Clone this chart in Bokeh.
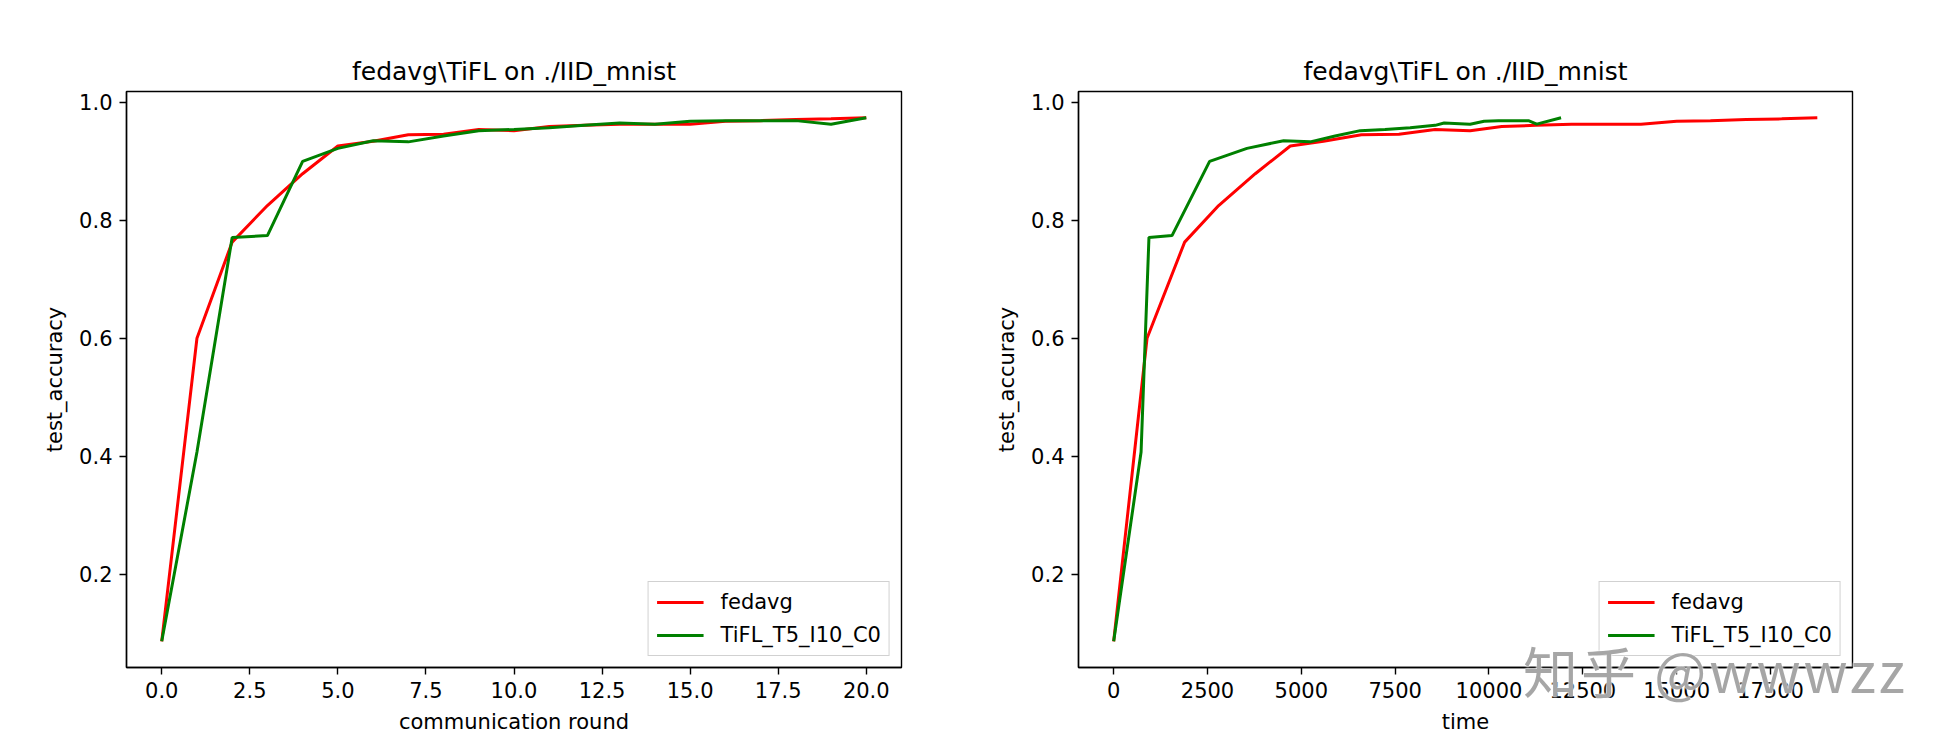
from bokeh.plotting import figure
from bokeh.layouts import row
from bokeh.models import FixedTicker, Range1d, Div, NumeralTickFormatter
from bokeh.embed import file_html
from bokeh.resources import INLINE

# ---- data ----
rounds = list(range(21))
fedavg_acc = [0.086, 0.600, 0.763, 0.825, 0.879, 0.926, 0.934, 0.945, 0.946, 0.954, 0.952,
              0.959, 0.961, 0.963, 0.963, 0.963, 0.968, 0.969, 0.971, 0.972, 0.974]
tifl_acc = [0.086, 0.407, 0.771, 0.774, 0.900, 0.922, 0.935, 0.933, 0.943, 0.952, 0.954,
            0.957, 0.961, 0.965, 0.963, 0.968, 0.969, 0.969, 0.969, 0.963, 0.974]
fedavg_time = [0, 889, 1891, 2797, 3773, 4705, 5591, 6600, 7600, 8565, 9497,
               10340, 11250, 12200, 13100, 14050, 15000, 15900, 16850, 17800, 18748]
tifl_time = [0, 730, 940, 1554, 2556, 3551, 4527, 5237, 5900, 6570, 7230,
             7900, 8565, 8805, 9497, 9870, 10250, 10650, 11050, 11272, 11920]

series_names = ["fedavg", "TiFL_T5_I10_C0"]
series_colors = ["red", "green"]
title_text = "fedavg\\TiFL on ./IID_mnist"
y_label = "test_accuracy"
x_labels = ["communication round", "time"]
y_ticks = [0.2, 0.4, 0.6, 0.8, 1.0]
x_ticks_round = [0, 2.5, 5, 7.5, 10, 12.5, 15, 17.5, 20]
x_ticks_time = [0, 2500, 5000, 7500, 10000, 12500, 15000, 17500]
watermark = "知乎 @wwwzz"

FONT = "DejaVu Sans"


def padded(vals):
    lo, hi = min(vals), max(vals)
    m = 0.05 * (hi - lo)
    return lo - m, hi + m


def make(xs_a, xs_b, x_ticks, x_fmt, xlabel, width, bl, br):
    x0, x1 = padded(list(xs_a) + list(xs_b))
    y0, y1 = padded(fedavg_acc + tifl_acc)
    p = figure(width=width, height=742, output_backend="svg", toolbar_location=None,
               x_range=Range1d(x0, x1), y_range=Range1d(y0, y1),
               min_border_left=bl, min_border_right=br, min_border_top=91, min_border_bottom=75)
    p.title.text = title_text
    p.title.align = "center"
    p.title.text_font = FONT
    p.title.text_font_size = "25px"
    p.title.text_font_style = "normal"
    p.title.text_color = "black"
    p.title.standoff = 12
    p.outline_line_color = "black"
    p.outline_line_width = 1.4
    p.outline_line_alpha = 1.0
    p.xgrid.visible = False
    p.ygrid.visible = False
    p.background_fill_color = "white"
    p.border_fill_color = "white"

    p.line(xs_a, fedavg_acc, line_color=series_colors[0], line_width=3, legend_label=series_names[0])
    p.line(xs_b, tifl_acc, line_color=series_colors[1], line_width=3, legend_label=series_names[1])

    p.xaxis.ticker = FixedTicker(ticks=x_ticks)
    p.xaxis.formatter = NumeralTickFormatter(format=x_fmt)
    p.yaxis.ticker = FixedTicker(ticks=y_ticks)
    p.yaxis.formatter = NumeralTickFormatter(format="0.0")
    p.xaxis.axis_label = xlabel
    p.yaxis.axis_label = y_label
    for ax in (p.xaxis, p.yaxis):
        ax.axis_line_color = "black"
        ax.axis_line_width = 1.4
        ax.major_tick_line_color = "black"
        ax.major_tick_line_width = 1.4
        ax.major_tick_out = 7
        ax.major_tick_in = 0
        ax.minor_tick_out = 0
        ax.minor_tick_in = 0
        ax.major_label_text_font = FONT
        ax.major_label_text_font_size = "21px"
        ax.major_label_text_color = "black"
        ax.major_label_standoff = 7
        ax.axis_label_text_font = FONT
        ax.axis_label_text_font_size = "21px"
        ax.axis_label_text_font_style = "normal"
        ax.axis_label_text_color = "black"
        ax.axis_label_standoff = 9

    lg = p.legend[0]
    lg.location = "bottom_right"
    lg.margin = 11
    lg.padding = 8
    lg.spacing = 9
    lg.glyph_width = 47
    lg.glyph_height = 24
    lg.label_height = 24
    lg.label_standoff = 17
    lg.label_text_font = FONT
    lg.label_text_font_size = "21px"
    lg.label_text_color = "black"
    lg.border_line_color = "#cccccc"
    lg.border_line_width = 1.5
    lg.border_line_alpha = 0.9
    lg.background_fill_color = "white"
    lg.background_fill_alpha = 0.8
    return p


p1 = make(rounds, rounds, x_ticks_round, "0.0", x_labels[0], 990, 126, 89)
p2 = make(fedavg_time, tifl_time, x_ticks_time, "0", x_labels[1], 946, 88, 84)

wm = Div(text=watermark, width=430, height=60,
         styles={"position": "absolute", "left": "1518px", "top": "637px",
                 "font-family": "'Noto Sans CJK SC'", "font-size": "55px",
                 "letter-spacing": "3px",
                 "line-height": "1", "white-space": "nowrap",
                 "color": "rgba(150,150,150,0.85)", "pointer-events": "none",
                 "text-shadow": "0 0 2px #ffffff, 0 0 2px #ffffff",
                 "z-index": "10"})

layout = row(p1, p2, wm)
open("out.html", "w").write(file_html(layout, INLINE))
